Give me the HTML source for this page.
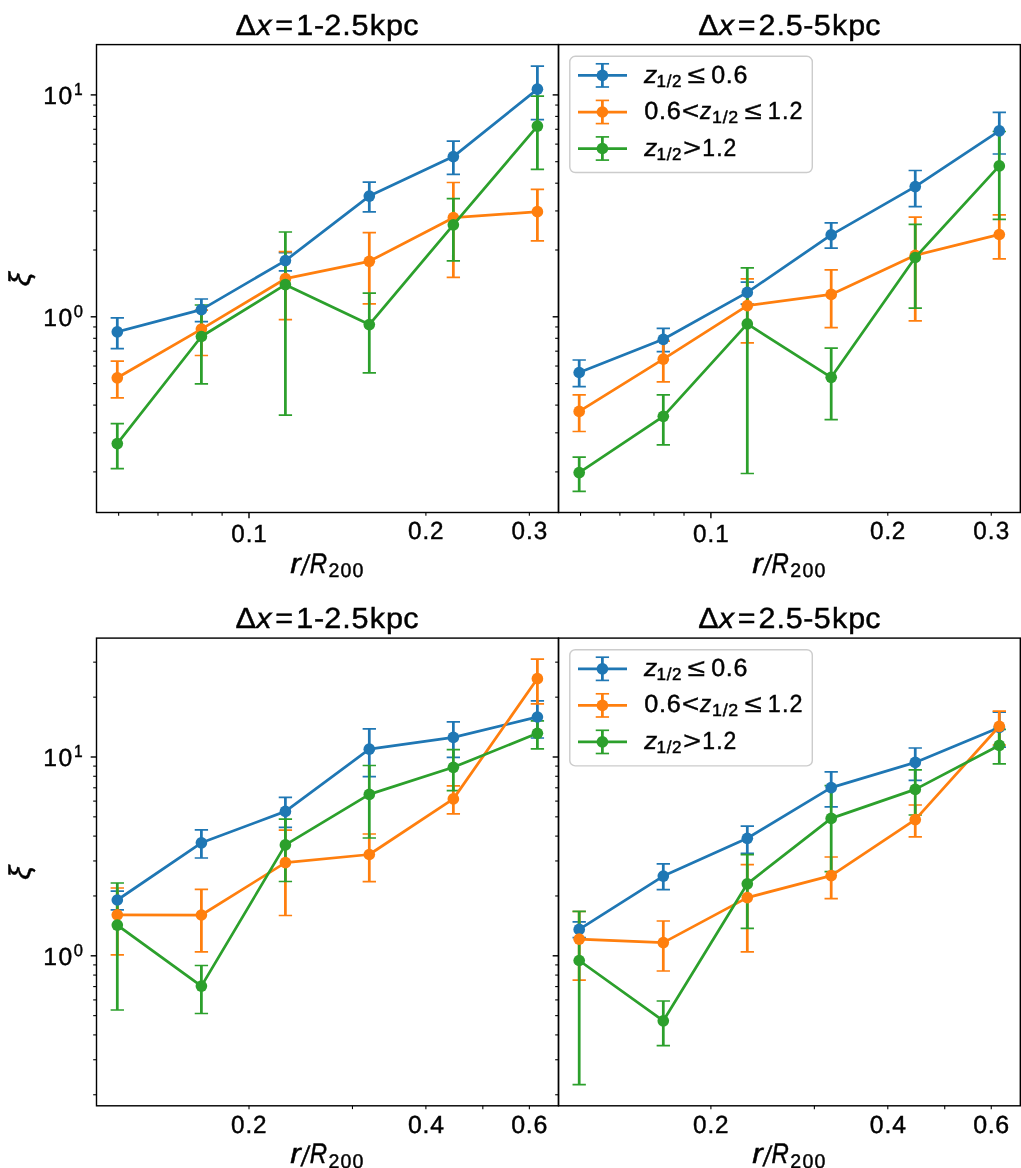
<!DOCTYPE html>
<html><head><meta charset="utf-8"><title>xi vs r/R200</title>
<style>html,body{margin:0;padding:0;background:#fff;}svg{display:block;}text{font-family:"Liberation Sans",sans-serif;text-rendering:geometricPrecision;}</style>
</head><body>
<svg width="1021" height="1168" viewBox="0 0 1021 1168">
<rect x="0" y="0" width="1021" height="1168" fill="#fff"/>
<defs>
<clipPath id="clipTL"><rect x="96.50" y="44.60" width="462.00" height="467.90"/></clipPath>
<clipPath id="clipTR"><rect x="558.50" y="44.60" width="461.80" height="467.90"/></clipPath>
<clipPath id="clipBL"><rect x="96.50" y="638.10" width="462.00" height="467.70"/></clipPath>
<clipPath id="clipBR"><rect x="558.50" y="638.10" width="461.80" height="467.70"/></clipPath>
</defs>
<g clip-path="url(#clipTL)">
<path d="M117.30 317.80V348.60M201.40 299.00V321.60M285.40 252.60V270.90M369.30 182.20V211.90M453.35 141.10V174.40M537.40 66.10V119.70" stroke="#1f77b4" stroke-width="2.750" fill="none"/>
<path d="M110.63 317.80H123.97M110.63 348.60H123.97M194.73 299.00H208.07M194.73 321.60H208.07M278.73 252.60H292.07M278.73 270.90H292.07M362.63 182.20H375.97M362.63 211.90H375.97M446.68 141.10H460.02M446.68 174.40H460.02M530.73 66.10H544.07M530.73 119.70H544.07" stroke="#1f77b4" stroke-width="1.667" fill="none"/>
<path d="M117.30 361.20V397.90M201.40 310.10V355.50M285.40 251.70V319.70M369.30 232.60V303.90M453.35 182.50V277.40M537.40 189.40V240.80" stroke="#ff7f0e" stroke-width="2.750" fill="none"/>
<path d="M110.63 361.20H123.97M110.63 397.90H123.97M194.73 310.10H208.07M194.73 355.50H208.07M278.73 251.70H292.07M278.73 319.70H292.07M362.63 232.60H375.97M362.63 303.90H375.97M446.68 182.50H460.02M446.68 277.40H460.02M530.73 189.40H544.07M530.73 240.80H544.07" stroke="#ff7f0e" stroke-width="1.667" fill="none"/>
<path d="M117.30 423.70V468.70M201.40 305.00V383.80M285.40 232.00V415.20M369.30 293.20V372.80M453.35 198.70V260.90M537.40 96.10V169.40" stroke="#2ca02c" stroke-width="2.750" fill="none"/>
<path d="M110.63 423.70H123.97M110.63 468.70H123.97M194.73 305.00H208.07M194.73 383.80H208.07M278.73 232.00H292.07M278.73 415.20H292.07M362.63 293.20H375.97M362.63 372.80H375.97M446.68 198.70H460.02M446.68 260.90H460.02M530.73 96.10H544.07M530.73 169.40H544.07" stroke="#2ca02c" stroke-width="1.667" fill="none"/>
<polyline points="117.30,331.90 201.40,309.60 285.40,260.60 369.30,196.10 453.35,156.60 537.40,89.20" stroke="#1f77b4" stroke-width="2.750" fill="none" stroke-linejoin="round" stroke-linecap="square"/>
<circle cx="117.30" cy="331.90" r="5.83" fill="#1f77b4"/>
<circle cx="201.40" cy="309.60" r="5.83" fill="#1f77b4"/>
<circle cx="285.40" cy="260.60" r="5.83" fill="#1f77b4"/>
<circle cx="369.30" cy="196.10" r="5.83" fill="#1f77b4"/>
<circle cx="453.35" cy="156.60" r="5.83" fill="#1f77b4"/>
<circle cx="537.40" cy="89.20" r="5.83" fill="#1f77b4"/>
<polyline points="117.30,377.80 201.40,329.10 285.40,278.70 369.30,261.30 453.35,217.70 537.40,211.70" stroke="#ff7f0e" stroke-width="2.750" fill="none" stroke-linejoin="round" stroke-linecap="square"/>
<circle cx="117.30" cy="377.80" r="5.83" fill="#ff7f0e"/>
<circle cx="201.40" cy="329.10" r="5.83" fill="#ff7f0e"/>
<circle cx="285.40" cy="278.70" r="5.83" fill="#ff7f0e"/>
<circle cx="369.30" cy="261.30" r="5.83" fill="#ff7f0e"/>
<circle cx="453.35" cy="217.70" r="5.83" fill="#ff7f0e"/>
<circle cx="537.40" cy="211.70" r="5.83" fill="#ff7f0e"/>
<polyline points="117.30,443.60 201.40,336.50 285.40,284.70 369.30,324.60 453.35,224.80 537.40,126.10" stroke="#2ca02c" stroke-width="2.750" fill="none" stroke-linejoin="round" stroke-linecap="square"/>
<circle cx="117.30" cy="443.60" r="5.83" fill="#2ca02c"/>
<circle cx="201.40" cy="336.50" r="5.83" fill="#2ca02c"/>
<circle cx="285.40" cy="284.70" r="5.83" fill="#2ca02c"/>
<circle cx="369.30" cy="324.60" r="5.83" fill="#2ca02c"/>
<circle cx="453.35" cy="224.80" r="5.83" fill="#2ca02c"/>
<circle cx="537.40" cy="126.10" r="5.83" fill="#2ca02c"/>
</g>
<g clip-path="url(#clipTR)">
<path d="M579.20 360.00V386.60M663.30 328.40V351.70M747.30 282.20V304.10M831.20 222.80V248.20M915.25 170.50V206.60M999.30 112.40V154.00" stroke="#1f77b4" stroke-width="2.750" fill="none"/>
<path d="M572.53 360.00H585.87M572.53 386.60H585.87M656.63 328.40H669.97M656.63 351.70H669.97M740.63 282.20H753.97M740.63 304.10H753.97M824.53 222.80H837.87M824.53 248.20H837.87M908.58 170.50H921.92M908.58 206.60H921.92M992.63 112.40H1005.97M992.63 154.00H1005.97" stroke="#1f77b4" stroke-width="1.667" fill="none"/>
<path d="M579.20 394.90V431.50M663.30 341.20V381.90M747.30 278.90V342.80M831.20 269.90V327.70M915.25 217.10V320.80M999.30 214.90V258.80" stroke="#ff7f0e" stroke-width="2.750" fill="none"/>
<path d="M572.53 394.90H585.87M572.53 431.50H585.87M656.63 341.20H669.97M656.63 381.90H669.97M740.63 278.90H753.97M740.63 342.80H753.97M824.53 269.90H837.87M824.53 327.70H837.87M908.58 217.10H921.92M908.58 320.80H921.92M992.63 214.90H1005.97M992.63 258.80H1005.97" stroke="#ff7f0e" stroke-width="1.667" fill="none"/>
<path d="M579.20 457.20V491.30M663.30 394.80V444.80M747.30 267.90V473.50M831.20 348.10V419.60M915.25 224.30V308.20M999.30 131.50V219.40" stroke="#2ca02c" stroke-width="2.750" fill="none"/>
<path d="M572.53 457.20H585.87M572.53 491.30H585.87M656.63 394.80H669.97M656.63 444.80H669.97M740.63 267.90H753.97M740.63 473.50H753.97M824.53 348.10H837.87M824.53 419.60H837.87M908.58 224.30H921.92M908.58 308.20H921.92M992.63 131.50H1005.97M992.63 219.40H1005.97" stroke="#2ca02c" stroke-width="1.667" fill="none"/>
<polyline points="579.20,372.50 663.30,339.30 747.30,292.40 831.20,234.90 915.25,186.60 999.30,130.90" stroke="#1f77b4" stroke-width="2.750" fill="none" stroke-linejoin="round" stroke-linecap="square"/>
<circle cx="579.20" cy="372.50" r="5.83" fill="#1f77b4"/>
<circle cx="663.30" cy="339.30" r="5.83" fill="#1f77b4"/>
<circle cx="747.30" cy="292.40" r="5.83" fill="#1f77b4"/>
<circle cx="831.20" cy="234.90" r="5.83" fill="#1f77b4"/>
<circle cx="915.25" cy="186.60" r="5.83" fill="#1f77b4"/>
<circle cx="999.30" cy="130.90" r="5.83" fill="#1f77b4"/>
<polyline points="579.20,411.40 663.30,359.20 747.30,305.60 831.20,294.40 915.25,255.30 999.30,234.50" stroke="#ff7f0e" stroke-width="2.750" fill="none" stroke-linejoin="round" stroke-linecap="square"/>
<circle cx="579.20" cy="411.40" r="5.83" fill="#ff7f0e"/>
<circle cx="663.30" cy="359.20" r="5.83" fill="#ff7f0e"/>
<circle cx="747.30" cy="305.60" r="5.83" fill="#ff7f0e"/>
<circle cx="831.20" cy="294.40" r="5.83" fill="#ff7f0e"/>
<circle cx="915.25" cy="255.30" r="5.83" fill="#ff7f0e"/>
<circle cx="999.30" cy="234.50" r="5.83" fill="#ff7f0e"/>
<polyline points="579.20,472.60 663.30,416.30 747.30,323.90 831.20,377.30 915.25,257.50 999.30,165.90" stroke="#2ca02c" stroke-width="2.750" fill="none" stroke-linejoin="round" stroke-linecap="square"/>
<circle cx="579.20" cy="472.60" r="5.83" fill="#2ca02c"/>
<circle cx="663.30" cy="416.30" r="5.83" fill="#2ca02c"/>
<circle cx="747.30" cy="323.90" r="5.83" fill="#2ca02c"/>
<circle cx="831.20" cy="377.30" r="5.83" fill="#2ca02c"/>
<circle cx="915.25" cy="257.50" r="5.83" fill="#2ca02c"/>
<circle cx="999.30" cy="165.90" r="5.83" fill="#2ca02c"/>
</g>
<g clip-path="url(#clipBL)">
<path d="M117.30 891.20V909.80M201.40 829.90V858.00M285.40 797.30V827.40M369.30 728.90V776.60M453.35 721.80V757.40M537.40 700.80V738.00" stroke="#1f77b4" stroke-width="2.750" fill="none"/>
<path d="M110.63 891.20H123.97M110.63 909.80H123.97M194.73 829.90H208.07M194.73 858.00H208.07M278.73 797.30H292.07M278.73 827.40H292.07M362.63 728.90H375.97M362.63 776.60H375.97M446.68 721.80H460.02M446.68 757.40H460.02M530.73 700.80H544.07M530.73 738.00H544.07" stroke="#1f77b4" stroke-width="1.667" fill="none"/>
<path d="M117.30 888.00V954.80M201.40 889.30V951.80M285.40 830.10V915.50M369.30 834.00V881.70M453.35 785.90V813.80M537.40 659.20V703.90" stroke="#ff7f0e" stroke-width="2.750" fill="none"/>
<path d="M110.63 888.00H123.97M110.63 954.80H123.97M194.73 889.30H208.07M194.73 951.80H208.07M278.73 830.10H292.07M278.73 915.50H292.07M362.63 834.00H375.97M362.63 881.70H375.97M446.68 785.90H460.02M446.68 813.80H460.02M530.73 659.20H544.07M530.73 703.90H544.07" stroke="#ff7f0e" stroke-width="1.667" fill="none"/>
<path d="M117.30 883.00V1010.00M201.40 965.50V1013.50M285.40 819.20V881.50M369.30 765.50V838.00M453.35 749.70V790.70M537.40 720.80V748.90" stroke="#2ca02c" stroke-width="2.750" fill="none"/>
<path d="M110.63 883.00H123.97M110.63 1010.00H123.97M194.73 965.50H208.07M194.73 1013.50H208.07M278.73 819.20H292.07M278.73 881.50H292.07M362.63 765.50H375.97M362.63 838.00H375.97M446.68 749.70H460.02M446.68 790.70H460.02M530.73 720.80H544.07M530.73 748.90H544.07" stroke="#2ca02c" stroke-width="1.667" fill="none"/>
<polyline points="117.30,900.00 201.40,842.80 285.40,811.40 369.30,749.20 453.35,737.40 537.40,717.00" stroke="#1f77b4" stroke-width="2.750" fill="none" stroke-linejoin="round" stroke-linecap="square"/>
<circle cx="117.30" cy="900.00" r="5.83" fill="#1f77b4"/>
<circle cx="201.40" cy="842.80" r="5.83" fill="#1f77b4"/>
<circle cx="285.40" cy="811.40" r="5.83" fill="#1f77b4"/>
<circle cx="369.30" cy="749.20" r="5.83" fill="#1f77b4"/>
<circle cx="453.35" cy="737.40" r="5.83" fill="#1f77b4"/>
<circle cx="537.40" cy="717.00" r="5.83" fill="#1f77b4"/>
<polyline points="117.30,914.80 201.40,915.00 285.40,862.70 369.30,854.50 453.35,798.90 537.40,678.70" stroke="#ff7f0e" stroke-width="2.750" fill="none" stroke-linejoin="round" stroke-linecap="square"/>
<circle cx="117.30" cy="914.80" r="5.83" fill="#ff7f0e"/>
<circle cx="201.40" cy="915.00" r="5.83" fill="#ff7f0e"/>
<circle cx="285.40" cy="862.70" r="5.83" fill="#ff7f0e"/>
<circle cx="369.30" cy="854.50" r="5.83" fill="#ff7f0e"/>
<circle cx="453.35" cy="798.90" r="5.83" fill="#ff7f0e"/>
<circle cx="537.40" cy="678.70" r="5.83" fill="#ff7f0e"/>
<polyline points="117.30,925.10 201.40,986.10 285.40,844.90 369.30,794.40 453.35,767.30 537.40,733.30" stroke="#2ca02c" stroke-width="2.750" fill="none" stroke-linejoin="round" stroke-linecap="square"/>
<circle cx="117.30" cy="925.10" r="5.83" fill="#2ca02c"/>
<circle cx="201.40" cy="986.10" r="5.83" fill="#2ca02c"/>
<circle cx="285.40" cy="844.90" r="5.83" fill="#2ca02c"/>
<circle cx="369.30" cy="794.40" r="5.83" fill="#2ca02c"/>
<circle cx="453.35" cy="767.30" r="5.83" fill="#2ca02c"/>
<circle cx="537.40" cy="733.30" r="5.83" fill="#2ca02c"/>
</g>
<g clip-path="url(#clipBR)">
<path d="M579.20 921.90V937.60M663.30 863.80V889.60M747.30 826.10V853.30M831.20 771.90V806.90M915.25 748.00V780.30M999.30 712.10V747.20" stroke="#1f77b4" stroke-width="2.750" fill="none"/>
<path d="M572.53 921.90H585.87M572.53 937.60H585.87M656.63 863.80H669.97M656.63 889.60H669.97M740.63 826.10H753.97M740.63 853.30H753.97M824.53 771.90H837.87M824.53 806.90H837.87M908.58 748.00H921.92M908.58 780.30H921.92M992.63 712.10H1005.97M992.63 747.20H1005.97" stroke="#1f77b4" stroke-width="1.667" fill="none"/>
<path d="M579.20 911.50V980.20M663.30 921.00V971.00M747.30 864.60V951.90M831.20 857.00V898.70M915.25 805.00V836.90M999.30 711.10V745.00" stroke="#ff7f0e" stroke-width="2.750" fill="none"/>
<path d="M572.53 911.50H585.87M572.53 980.20H585.87M656.63 921.00H669.97M656.63 971.00H669.97M740.63 864.60H753.97M740.63 951.90H753.97M824.53 857.00H837.87M824.53 898.70H837.87M908.58 805.00H921.92M908.58 836.90H921.92M992.63 711.10H1005.97M992.63 745.00H1005.97" stroke="#ff7f0e" stroke-width="1.667" fill="none"/>
<path d="M579.20 911.40V1084.60M663.30 1001.00V1045.60M747.30 854.60V928.40M831.20 785.70V871.70M915.25 769.80V815.00M999.30 729.30V763.90" stroke="#2ca02c" stroke-width="2.750" fill="none"/>
<path d="M572.53 911.40H585.87M572.53 1084.60H585.87M656.63 1001.00H669.97M656.63 1045.60H669.97M740.63 854.60H753.97M740.63 928.40H753.97M824.53 785.70H837.87M824.53 871.70H837.87M908.58 769.80H921.92M908.58 815.00H921.92M992.63 729.30H1005.97M992.63 763.90H1005.97" stroke="#2ca02c" stroke-width="1.667" fill="none"/>
<polyline points="579.20,929.40 663.30,876.10 747.30,838.30 831.20,787.60 915.25,762.40 999.30,727.50" stroke="#1f77b4" stroke-width="2.750" fill="none" stroke-linejoin="round" stroke-linecap="square"/>
<circle cx="579.20" cy="929.40" r="5.83" fill="#1f77b4"/>
<circle cx="663.30" cy="876.10" r="5.83" fill="#1f77b4"/>
<circle cx="747.30" cy="838.30" r="5.83" fill="#1f77b4"/>
<circle cx="831.20" cy="787.60" r="5.83" fill="#1f77b4"/>
<circle cx="915.25" cy="762.40" r="5.83" fill="#1f77b4"/>
<circle cx="999.30" cy="727.50" r="5.83" fill="#1f77b4"/>
<polyline points="579.20,939.20 663.30,942.60 747.30,897.60 831.20,875.60 915.25,819.60 999.30,726.30" stroke="#ff7f0e" stroke-width="2.750" fill="none" stroke-linejoin="round" stroke-linecap="square"/>
<circle cx="579.20" cy="939.20" r="5.83" fill="#ff7f0e"/>
<circle cx="663.30" cy="942.60" r="5.83" fill="#ff7f0e"/>
<circle cx="747.30" cy="897.60" r="5.83" fill="#ff7f0e"/>
<circle cx="831.20" cy="875.60" r="5.83" fill="#ff7f0e"/>
<circle cx="915.25" cy="819.60" r="5.83" fill="#ff7f0e"/>
<circle cx="999.30" cy="726.30" r="5.83" fill="#ff7f0e"/>
<polyline points="579.20,960.50 663.30,1020.80 747.30,883.80 831.20,818.40 915.25,789.40 999.30,745.30" stroke="#2ca02c" stroke-width="2.750" fill="none" stroke-linejoin="round" stroke-linecap="square"/>
<circle cx="579.20" cy="960.50" r="5.83" fill="#2ca02c"/>
<circle cx="663.30" cy="1020.80" r="5.83" fill="#2ca02c"/>
<circle cx="747.30" cy="883.80" r="5.83" fill="#2ca02c"/>
<circle cx="831.20" cy="818.40" r="5.83" fill="#2ca02c"/>
<circle cx="915.25" cy="789.40" r="5.83" fill="#2ca02c"/>
<circle cx="999.30" cy="745.30" r="5.83" fill="#2ca02c"/>
</g>
<rect x="96.50" y="44.60" width="462.00" height="467.90" fill="none" stroke="#000" stroke-width="1.420" stroke-linejoin="miter"/>
<rect x="558.50" y="44.60" width="461.80" height="467.90" fill="none" stroke="#000" stroke-width="1.420" stroke-linejoin="miter"/>
<line x1="93.17" y1="471.90" x2="96.50" y2="471.90" stroke="#000" stroke-width="1.100" stroke-linecap="butt"/>
<line x1="93.17" y1="432.83" x2="96.50" y2="432.83" stroke="#000" stroke-width="1.100" stroke-linecap="butt"/>
<line x1="93.17" y1="405.10" x2="96.50" y2="405.10" stroke="#000" stroke-width="1.100" stroke-linecap="butt"/>
<line x1="93.17" y1="383.60" x2="96.50" y2="383.60" stroke="#000" stroke-width="1.100" stroke-linecap="butt"/>
<line x1="93.17" y1="366.03" x2="96.50" y2="366.03" stroke="#000" stroke-width="1.100" stroke-linecap="butt"/>
<line x1="93.17" y1="351.17" x2="96.50" y2="351.17" stroke="#000" stroke-width="1.100" stroke-linecap="butt"/>
<line x1="93.17" y1="338.30" x2="96.50" y2="338.30" stroke="#000" stroke-width="1.100" stroke-linecap="butt"/>
<line x1="93.17" y1="326.95" x2="96.50" y2="326.95" stroke="#000" stroke-width="1.100" stroke-linecap="butt"/>
<line x1="90.67" y1="316.80" x2="96.50" y2="316.80" stroke="#000" stroke-width="1.420" stroke-linecap="butt"/>
<line x1="93.17" y1="250.00" x2="96.50" y2="250.00" stroke="#000" stroke-width="1.100" stroke-linecap="butt"/>
<line x1="93.17" y1="210.93" x2="96.50" y2="210.93" stroke="#000" stroke-width="1.100" stroke-linecap="butt"/>
<line x1="93.17" y1="183.20" x2="96.50" y2="183.20" stroke="#000" stroke-width="1.100" stroke-linecap="butt"/>
<line x1="93.17" y1="161.70" x2="96.50" y2="161.70" stroke="#000" stroke-width="1.100" stroke-linecap="butt"/>
<line x1="93.17" y1="144.13" x2="96.50" y2="144.13" stroke="#000" stroke-width="1.100" stroke-linecap="butt"/>
<line x1="93.17" y1="129.27" x2="96.50" y2="129.27" stroke="#000" stroke-width="1.100" stroke-linecap="butt"/>
<line x1="93.17" y1="116.40" x2="96.50" y2="116.40" stroke="#000" stroke-width="1.100" stroke-linecap="butt"/>
<line x1="93.17" y1="105.05" x2="96.50" y2="105.05" stroke="#000" stroke-width="1.100" stroke-linecap="butt"/>
<line x1="90.67" y1="94.90" x2="96.50" y2="94.90" stroke="#000" stroke-width="1.420" stroke-linecap="butt"/>
<line x1="555.17" y1="471.90" x2="558.50" y2="471.90" stroke="#000" stroke-width="1.100" stroke-linecap="butt"/>
<line x1="555.17" y1="432.83" x2="558.50" y2="432.83" stroke="#000" stroke-width="1.100" stroke-linecap="butt"/>
<line x1="555.17" y1="405.10" x2="558.50" y2="405.10" stroke="#000" stroke-width="1.100" stroke-linecap="butt"/>
<line x1="555.17" y1="383.60" x2="558.50" y2="383.60" stroke="#000" stroke-width="1.100" stroke-linecap="butt"/>
<line x1="555.17" y1="366.03" x2="558.50" y2="366.03" stroke="#000" stroke-width="1.100" stroke-linecap="butt"/>
<line x1="555.17" y1="351.17" x2="558.50" y2="351.17" stroke="#000" stroke-width="1.100" stroke-linecap="butt"/>
<line x1="555.17" y1="338.30" x2="558.50" y2="338.30" stroke="#000" stroke-width="1.100" stroke-linecap="butt"/>
<line x1="555.17" y1="326.95" x2="558.50" y2="326.95" stroke="#000" stroke-width="1.100" stroke-linecap="butt"/>
<line x1="552.67" y1="316.80" x2="558.50" y2="316.80" stroke="#000" stroke-width="1.420" stroke-linecap="butt"/>
<line x1="555.17" y1="250.00" x2="558.50" y2="250.00" stroke="#000" stroke-width="1.100" stroke-linecap="butt"/>
<line x1="555.17" y1="210.93" x2="558.50" y2="210.93" stroke="#000" stroke-width="1.100" stroke-linecap="butt"/>
<line x1="555.17" y1="183.20" x2="558.50" y2="183.20" stroke="#000" stroke-width="1.100" stroke-linecap="butt"/>
<line x1="555.17" y1="161.70" x2="558.50" y2="161.70" stroke="#000" stroke-width="1.100" stroke-linecap="butt"/>
<line x1="555.17" y1="144.13" x2="558.50" y2="144.13" stroke="#000" stroke-width="1.100" stroke-linecap="butt"/>
<line x1="555.17" y1="129.27" x2="558.50" y2="129.27" stroke="#000" stroke-width="1.100" stroke-linecap="butt"/>
<line x1="555.17" y1="116.40" x2="558.50" y2="116.40" stroke="#000" stroke-width="1.100" stroke-linecap="butt"/>
<line x1="555.17" y1="105.05" x2="558.50" y2="105.05" stroke="#000" stroke-width="1.100" stroke-linecap="butt"/>
<line x1="552.67" y1="94.90" x2="558.50" y2="94.90" stroke="#000" stroke-width="1.420" stroke-linecap="butt"/>
<line x1="118.64" y1="512.50" x2="118.64" y2="515.83" stroke="#000" stroke-width="1.100" stroke-linecap="butt"/>
<line x1="157.98" y1="512.50" x2="157.98" y2="515.83" stroke="#000" stroke-width="1.100" stroke-linecap="butt"/>
<line x1="192.06" y1="512.50" x2="192.06" y2="515.83" stroke="#000" stroke-width="1.100" stroke-linecap="butt"/>
<line x1="222.11" y1="512.50" x2="222.11" y2="515.83" stroke="#000" stroke-width="1.100" stroke-linecap="butt"/>
<line x1="249.00" y1="512.50" x2="249.00" y2="518.33" stroke="#000" stroke-width="1.420" stroke-linecap="butt"/>
<line x1="425.89" y1="512.50" x2="425.89" y2="515.83" stroke="#000" stroke-width="1.100" stroke-linecap="butt"/>
<line x1="529.36" y1="512.50" x2="529.36" y2="515.83" stroke="#000" stroke-width="1.100" stroke-linecap="butt"/>
<line x1="580.54" y1="512.50" x2="580.54" y2="515.83" stroke="#000" stroke-width="1.100" stroke-linecap="butt"/>
<line x1="619.88" y1="512.50" x2="619.88" y2="515.83" stroke="#000" stroke-width="1.100" stroke-linecap="butt"/>
<line x1="653.96" y1="512.50" x2="653.96" y2="515.83" stroke="#000" stroke-width="1.100" stroke-linecap="butt"/>
<line x1="684.01" y1="512.50" x2="684.01" y2="515.83" stroke="#000" stroke-width="1.100" stroke-linecap="butt"/>
<line x1="710.90" y1="512.50" x2="710.90" y2="518.33" stroke="#000" stroke-width="1.420" stroke-linecap="butt"/>
<line x1="887.79" y1="512.50" x2="887.79" y2="515.83" stroke="#000" stroke-width="1.100" stroke-linecap="butt"/>
<line x1="991.26" y1="512.50" x2="991.26" y2="515.83" stroke="#000" stroke-width="1.100" stroke-linecap="butt"/>
<rect x="96.50" y="638.10" width="462.00" height="467.70" fill="none" stroke="#000" stroke-width="1.420" stroke-linejoin="miter"/>
<rect x="558.50" y="638.10" width="461.80" height="467.70" fill="none" stroke="#000" stroke-width="1.420" stroke-linejoin="miter"/>
<line x1="93.17" y1="1094.76" x2="96.50" y2="1094.76" stroke="#000" stroke-width="1.100" stroke-linecap="butt"/>
<line x1="93.17" y1="1059.75" x2="96.50" y2="1059.75" stroke="#000" stroke-width="1.100" stroke-linecap="butt"/>
<line x1="93.17" y1="1034.91" x2="96.50" y2="1034.91" stroke="#000" stroke-width="1.100" stroke-linecap="butt"/>
<line x1="93.17" y1="1015.64" x2="96.50" y2="1015.64" stroke="#000" stroke-width="1.100" stroke-linecap="butt"/>
<line x1="93.17" y1="999.90" x2="96.50" y2="999.90" stroke="#000" stroke-width="1.100" stroke-linecap="butt"/>
<line x1="93.17" y1="986.59" x2="96.50" y2="986.59" stroke="#000" stroke-width="1.100" stroke-linecap="butt"/>
<line x1="93.17" y1="975.07" x2="96.50" y2="975.07" stroke="#000" stroke-width="1.100" stroke-linecap="butt"/>
<line x1="93.17" y1="964.90" x2="96.50" y2="964.90" stroke="#000" stroke-width="1.100" stroke-linecap="butt"/>
<line x1="90.67" y1="955.80" x2="96.50" y2="955.80" stroke="#000" stroke-width="1.420" stroke-linecap="butt"/>
<line x1="93.17" y1="895.96" x2="96.50" y2="895.96" stroke="#000" stroke-width="1.100" stroke-linecap="butt"/>
<line x1="93.17" y1="860.95" x2="96.50" y2="860.95" stroke="#000" stroke-width="1.100" stroke-linecap="butt"/>
<line x1="93.17" y1="836.11" x2="96.50" y2="836.11" stroke="#000" stroke-width="1.100" stroke-linecap="butt"/>
<line x1="93.17" y1="816.84" x2="96.50" y2="816.84" stroke="#000" stroke-width="1.100" stroke-linecap="butt"/>
<line x1="93.17" y1="801.10" x2="96.50" y2="801.10" stroke="#000" stroke-width="1.100" stroke-linecap="butt"/>
<line x1="93.17" y1="787.79" x2="96.50" y2="787.79" stroke="#000" stroke-width="1.100" stroke-linecap="butt"/>
<line x1="93.17" y1="776.27" x2="96.50" y2="776.27" stroke="#000" stroke-width="1.100" stroke-linecap="butt"/>
<line x1="93.17" y1="766.10" x2="96.50" y2="766.10" stroke="#000" stroke-width="1.100" stroke-linecap="butt"/>
<line x1="90.67" y1="757.00" x2="96.50" y2="757.00" stroke="#000" stroke-width="1.420" stroke-linecap="butt"/>
<line x1="93.17" y1="697.16" x2="96.50" y2="697.16" stroke="#000" stroke-width="1.100" stroke-linecap="butt"/>
<line x1="93.17" y1="662.15" x2="96.50" y2="662.15" stroke="#000" stroke-width="1.100" stroke-linecap="butt"/>
<line x1="555.17" y1="1094.76" x2="558.50" y2="1094.76" stroke="#000" stroke-width="1.100" stroke-linecap="butt"/>
<line x1="555.17" y1="1059.75" x2="558.50" y2="1059.75" stroke="#000" stroke-width="1.100" stroke-linecap="butt"/>
<line x1="555.17" y1="1034.91" x2="558.50" y2="1034.91" stroke="#000" stroke-width="1.100" stroke-linecap="butt"/>
<line x1="555.17" y1="1015.64" x2="558.50" y2="1015.64" stroke="#000" stroke-width="1.100" stroke-linecap="butt"/>
<line x1="555.17" y1="999.90" x2="558.50" y2="999.90" stroke="#000" stroke-width="1.100" stroke-linecap="butt"/>
<line x1="555.17" y1="986.59" x2="558.50" y2="986.59" stroke="#000" stroke-width="1.100" stroke-linecap="butt"/>
<line x1="555.17" y1="975.07" x2="558.50" y2="975.07" stroke="#000" stroke-width="1.100" stroke-linecap="butt"/>
<line x1="555.17" y1="964.90" x2="558.50" y2="964.90" stroke="#000" stroke-width="1.100" stroke-linecap="butt"/>
<line x1="552.67" y1="955.80" x2="558.50" y2="955.80" stroke="#000" stroke-width="1.420" stroke-linecap="butt"/>
<line x1="555.17" y1="895.96" x2="558.50" y2="895.96" stroke="#000" stroke-width="1.100" stroke-linecap="butt"/>
<line x1="555.17" y1="860.95" x2="558.50" y2="860.95" stroke="#000" stroke-width="1.100" stroke-linecap="butt"/>
<line x1="555.17" y1="836.11" x2="558.50" y2="836.11" stroke="#000" stroke-width="1.100" stroke-linecap="butt"/>
<line x1="555.17" y1="816.84" x2="558.50" y2="816.84" stroke="#000" stroke-width="1.100" stroke-linecap="butt"/>
<line x1="555.17" y1="801.10" x2="558.50" y2="801.10" stroke="#000" stroke-width="1.100" stroke-linecap="butt"/>
<line x1="555.17" y1="787.79" x2="558.50" y2="787.79" stroke="#000" stroke-width="1.100" stroke-linecap="butt"/>
<line x1="555.17" y1="776.27" x2="558.50" y2="776.27" stroke="#000" stroke-width="1.100" stroke-linecap="butt"/>
<line x1="555.17" y1="766.10" x2="558.50" y2="766.10" stroke="#000" stroke-width="1.100" stroke-linecap="butt"/>
<line x1="552.67" y1="757.00" x2="558.50" y2="757.00" stroke="#000" stroke-width="1.420" stroke-linecap="butt"/>
<line x1="555.17" y1="697.16" x2="558.50" y2="697.16" stroke="#000" stroke-width="1.100" stroke-linecap="butt"/>
<line x1="555.17" y1="662.15" x2="558.50" y2="662.15" stroke="#000" stroke-width="1.100" stroke-linecap="butt"/>
<line x1="249.00" y1="1105.80" x2="249.00" y2="1109.13" stroke="#000" stroke-width="1.100" stroke-linecap="butt"/>
<line x1="352.47" y1="1105.80" x2="352.47" y2="1109.13" stroke="#000" stroke-width="1.100" stroke-linecap="butt"/>
<line x1="425.89" y1="1105.80" x2="425.89" y2="1109.13" stroke="#000" stroke-width="1.100" stroke-linecap="butt"/>
<line x1="482.83" y1="1105.80" x2="482.83" y2="1109.13" stroke="#000" stroke-width="1.100" stroke-linecap="butt"/>
<line x1="529.36" y1="1105.80" x2="529.36" y2="1109.13" stroke="#000" stroke-width="1.100" stroke-linecap="butt"/>
<line x1="710.90" y1="1105.80" x2="710.90" y2="1109.13" stroke="#000" stroke-width="1.100" stroke-linecap="butt"/>
<line x1="814.37" y1="1105.80" x2="814.37" y2="1109.13" stroke="#000" stroke-width="1.100" stroke-linecap="butt"/>
<line x1="887.79" y1="1105.80" x2="887.79" y2="1109.13" stroke="#000" stroke-width="1.100" stroke-linecap="butt"/>
<line x1="944.73" y1="1105.80" x2="944.73" y2="1109.13" stroke="#000" stroke-width="1.100" stroke-linecap="butt"/>
<line x1="991.26" y1="1105.80" x2="991.26" y2="1109.13" stroke="#000" stroke-width="1.100" stroke-linecap="butt"/>
<rect x="569.80" y="56.30" width="242.50" height="116.20" rx="5.5" ry="5.5" fill="#fff" fill-opacity="0.8" stroke="#ccc" stroke-width="1.420"/>
<line x1="578.00" y1="75.40" x2="627.00" y2="75.40" stroke="#1f77b4" stroke-width="2.750" stroke-linecap="butt"/>
<line x1="602.40" y1="63.80" x2="602.40" y2="87.00" stroke="#1f77b4" stroke-width="2.750" stroke-linecap="butt"/>
<line x1="595.73" y1="63.80" x2="609.07" y2="63.80" stroke="#1f77b4" stroke-width="1.667" stroke-linecap="butt"/>
<line x1="595.73" y1="87.00" x2="609.07" y2="87.00" stroke="#1f77b4" stroke-width="1.667" stroke-linecap="butt"/>
<circle cx="602.40" cy="75.40" r="5.83" fill="#1f77b4"/>
<line x1="578.00" y1="112.00" x2="627.00" y2="112.00" stroke="#ff7f0e" stroke-width="2.750" stroke-linecap="butt"/>
<line x1="602.40" y1="100.40" x2="602.40" y2="123.60" stroke="#ff7f0e" stroke-width="2.750" stroke-linecap="butt"/>
<line x1="595.73" y1="100.40" x2="609.07" y2="100.40" stroke="#ff7f0e" stroke-width="1.667" stroke-linecap="butt"/>
<line x1="595.73" y1="123.60" x2="609.07" y2="123.60" stroke="#ff7f0e" stroke-width="1.667" stroke-linecap="butt"/>
<circle cx="602.40" cy="112.00" r="5.83" fill="#ff7f0e"/>
<line x1="578.00" y1="148.50" x2="627.00" y2="148.50" stroke="#2ca02c" stroke-width="2.750" stroke-linecap="butt"/>
<line x1="602.40" y1="136.90" x2="602.40" y2="160.10" stroke="#2ca02c" stroke-width="2.750" stroke-linecap="butt"/>
<line x1="595.73" y1="136.90" x2="609.07" y2="136.90" stroke="#2ca02c" stroke-width="1.667" stroke-linecap="butt"/>
<line x1="595.73" y1="160.10" x2="609.07" y2="160.10" stroke="#2ca02c" stroke-width="1.667" stroke-linecap="butt"/>
<circle cx="602.40" cy="148.50" r="5.83" fill="#2ca02c"/>
<rect x="569.80" y="649.70" width="242.50" height="116.20" rx="5.5" ry="5.5" fill="#fff" fill-opacity="0.8" stroke="#ccc" stroke-width="1.420"/>
<line x1="578.00" y1="668.80" x2="627.00" y2="668.80" stroke="#1f77b4" stroke-width="2.750" stroke-linecap="butt"/>
<line x1="602.40" y1="657.20" x2="602.40" y2="680.40" stroke="#1f77b4" stroke-width="2.750" stroke-linecap="butt"/>
<line x1="595.73" y1="657.20" x2="609.07" y2="657.20" stroke="#1f77b4" stroke-width="1.667" stroke-linecap="butt"/>
<line x1="595.73" y1="680.40" x2="609.07" y2="680.40" stroke="#1f77b4" stroke-width="1.667" stroke-linecap="butt"/>
<circle cx="602.40" cy="668.80" r="5.83" fill="#1f77b4"/>
<line x1="578.00" y1="705.40" x2="627.00" y2="705.40" stroke="#ff7f0e" stroke-width="2.750" stroke-linecap="butt"/>
<line x1="602.40" y1="693.80" x2="602.40" y2="717.00" stroke="#ff7f0e" stroke-width="2.750" stroke-linecap="butt"/>
<line x1="595.73" y1="693.80" x2="609.07" y2="693.80" stroke="#ff7f0e" stroke-width="1.667" stroke-linecap="butt"/>
<line x1="595.73" y1="717.00" x2="609.07" y2="717.00" stroke="#ff7f0e" stroke-width="1.667" stroke-linecap="butt"/>
<circle cx="602.40" cy="705.40" r="5.83" fill="#ff7f0e"/>
<line x1="578.00" y1="741.90" x2="627.00" y2="741.90" stroke="#2ca02c" stroke-width="2.750" stroke-linecap="butt"/>
<line x1="602.40" y1="730.30" x2="602.40" y2="753.50" stroke="#2ca02c" stroke-width="2.750" stroke-linecap="butt"/>
<line x1="595.73" y1="730.30" x2="609.07" y2="730.30" stroke="#2ca02c" stroke-width="1.667" stroke-linecap="butt"/>
<line x1="595.73" y1="753.50" x2="609.07" y2="753.50" stroke="#2ca02c" stroke-width="1.667" stroke-linecap="butt"/>
<circle cx="602.40" cy="741.90" r="5.83" fill="#2ca02c"/>
<g fill="#000" stroke="#000" stroke-width="0.45" opacity="0.999" style="font-family:'Liberation Sans', sans-serif;font-kerning:none">
<text transform="translate(0 34.70) scale(1.0520 1)" font-size="29.08"><tspan x="223.98">Δ</tspan><tspan font-style="italic" x="243.48">x</tspan><tspan x="261.56 281.60 298.41 308.20 325.41 334.09 351.53 367.00 383.25">=1-2.5kpc</tspan></text>
<text transform="translate(0 34.70) scale(1.0473 1)" font-size="29.08"><tspan x="666.72">Δ</tspan><tspan font-style="italic" x="686.25">x</tspan><tspan x="704.36 724.24 741.48 750.18 766.95 777.02 794.48 809.98 826.26">=2.5-5kpc</tspan></text>
<text transform="translate(0 628.10) scale(1.0520 1)" font-size="29.08"><tspan x="223.98">Δ</tspan><tspan font-style="italic" x="243.48">x</tspan><tspan x="261.56 281.60 298.41 308.20 325.41 334.09 351.53 367.00 383.25">=1-2.5kpc</tspan></text>
<text transform="translate(0 628.10) scale(1.0473 1)" font-size="29.08"><tspan x="666.72">Δ</tspan><tspan font-style="italic" x="686.25">x</tspan><tspan x="704.36 724.24 741.48 750.18 766.95 777.02 794.48 809.98 826.26">=2.5-5kpc</tspan></text>
<text transform="translate(0 542.00) scale(0.9781 1)" font-size="24.72"><tspan x="236.32 251.14 258.96">0.1</tspan></text>
<text transform="translate(0 538.90) scale(0.9813 1)" font-size="24.72"><tspan x="415.79 430.56 438.16">0.2</tspan></text>
<text transform="translate(0 538.90) scale(0.9819 1)" font-size="24.72"><tspan x="520.89 535.69 543.65">0.3</tspan></text>
<text transform="translate(0 1132.60) scale(0.9813 1)" font-size="24.72"><tspan x="235.53 250.30 257.90">0.2</tspan></text>
<text transform="translate(0 1132.60) scale(1.0018 1)" font-size="24.72"><tspan x="407.17 421.76 429.49">0.4</tspan></text>
<text transform="translate(0 1132.60) scale(1.0093 1)" font-size="24.72"><tspan x="506.55 520.97 528.53">0.6</tspan></text>
<text transform="translate(0 542.00) scale(0.9781 1)" font-size="24.72"><tspan x="708.58 723.39 731.22">0.1</tspan></text>
<text transform="translate(0 538.90) scale(0.9813 1)" font-size="24.72"><tspan x="886.50 901.27 908.87">0.2</tspan></text>
<text transform="translate(0 538.90) scale(0.9819 1)" font-size="24.72"><tspan x="991.28 1006.08 1014.04">0.3</tspan></text>
<text transform="translate(0 1132.60) scale(0.9813 1)" font-size="24.72"><tspan x="706.24 721.01 728.61">0.2</tspan></text>
<text transform="translate(0 1132.60) scale(1.0018 1)" font-size="24.72"><tspan x="868.25 882.84 890.57">0.4</tspan></text>
<text transform="translate(0 1132.60) scale(1.0093 1)" font-size="24.72"><tspan x="964.19 978.61 986.17">0.6</tspan></text>
<text transform="translate(0 325.70) scale(0.9974 1)" font-size="24.72"><tspan x="43.41 58.77">10</tspan></text>
<text transform="translate(0 316.90) scale(0.9549 1)" font-size="17.31"><tspan x="77.23">0</tspan></text>
<text transform="translate(0 103.80) scale(0.9974 1)" font-size="24.72"><tspan x="43.41 58.77">10</tspan></text>
<text transform="translate(0 95.00) scale(0.8979 1)" font-size="17.31"><tspan x="82.54">1</tspan></text>
<text transform="translate(0 964.70) scale(0.9974 1)" font-size="24.72"><tspan x="43.41 58.77">10</tspan></text>
<text transform="translate(0 955.90) scale(0.9549 1)" font-size="17.31"><tspan x="77.23">0</tspan></text>
<text transform="translate(0 765.90) scale(0.9974 1)" font-size="24.72"><tspan x="43.41 58.77">10</tspan></text>
<text transform="translate(0 757.10) scale(0.8979 1)" font-size="17.31"><tspan x="82.54">1</tspan></text>
<text transform="translate(0 572.70) scale(1.1319 1)" font-size="28.26"><tspan font-style="italic" x="256.52">r</tspan></text>
<text transform="translate(0 574.90) scale(0.8500 1)" font-size="28.26"><tspan font-style="italic" x="355.01">/</tspan></text>
<text transform="translate(0 572.70) scale(0.8500 1)" font-size="28.26"><tspan font-style="italic" x="364.38">R</tspan></text>
<text transform="translate(0 577.20) scale(0.9913 1)" font-size="19.78"><tspan x="331.28 343.61 355.70">200</tspan></text>
<text transform="translate(0 1163.30) scale(1.1319 1)" font-size="28.26"><tspan font-style="italic" x="256.52">r</tspan></text>
<text transform="translate(0 1165.50) scale(0.8500 1)" font-size="28.26"><tspan font-style="italic" x="355.01">/</tspan></text>
<text transform="translate(0 1163.30) scale(0.8500 1)" font-size="28.26"><tspan font-style="italic" x="364.38">R</tspan></text>
<text transform="translate(0 1167.80) scale(0.9913 1)" font-size="19.78"><tspan x="331.28 343.61 355.70">200</tspan></text>
<text transform="translate(0 572.70) scale(1.1319 1)" font-size="28.26"><tspan font-style="italic" x="664.58">r</tspan></text>
<text transform="translate(0 574.90) scale(0.8500 1)" font-size="28.26"><tspan font-style="italic" x="898.42">/</tspan></text>
<text transform="translate(0 572.70) scale(0.8500 1)" font-size="28.26"><tspan font-style="italic" x="907.79">R</tspan></text>
<text transform="translate(0 577.20) scale(0.9913 1)" font-size="19.78"><tspan x="797.23 809.56 821.65">200</tspan></text>
<text transform="translate(0 1163.30) scale(1.1319 1)" font-size="28.26"><tspan font-style="italic" x="664.58">r</tspan></text>
<text transform="translate(0 1165.50) scale(0.8500 1)" font-size="28.26"><tspan font-style="italic" x="898.42">/</tspan></text>
<text transform="translate(0 1163.30) scale(0.8500 1)" font-size="28.26"><tspan font-style="italic" x="907.79">R</tspan></text>
<text transform="translate(0 1167.80) scale(0.9913 1)" font-size="19.78"><tspan x="797.23 809.56 821.65">200</tspan></text>
<text transform="translate(29.90 286.30) rotate(-90) scale(1.1100 1.0550)" font-size="28.26"><tspan font-style="italic">ξ</tspan></text>
<text transform="translate(29.90 879.70) rotate(-90) scale(1.1100 1.0550)" font-size="28.26"><tspan font-style="italic">ξ</tspan></text>
<text transform="translate(0 82.90) scale(1.0684 1)" font-size="24.72"><tspan font-style="italic" x="602.85">z</tspan></text>
<text transform="translate(0 86.80) scale(0.9844 1)" font-size="17.31"><tspan x="666.84 677.29 682.61">1/2</tspan></text>
<text transform="translate(0 82.90) scale(1.2712 1)" font-size="24.72"><tspan x="541.07">≤</tspan></text>
<text transform="translate(0 82.90) scale(1.0128 1)" font-size="24.72"><tspan x="702.20 716.63 724.18">0.6</tspan></text>
<text transform="translate(0 118.80) scale(1.0217 1)" font-size="24.72"><tspan x="630.49 644.92 652.47">0.6</tspan></text>
<text transform="translate(0 118.80) scale(1.1905 1)" font-size="24.72"><tspan x="572.89">&lt;</tspan></text>
<text transform="translate(0 118.80) scale(0.9122 1)" font-size="24.72"><tspan font-style="italic" x="767.51">z</tspan></text>
<text transform="translate(0 122.70) scale(1.0281 1)" font-size="17.31"><tspan x="692.48 702.93 708.25">1/2</tspan></text>
<text transform="translate(0 118.80) scale(1.2463 1)" font-size="24.72"><tspan x="597.64">≤</tspan></text>
<text transform="translate(0 118.80) scale(0.9460 1)" font-size="24.72"><tspan x="811.60 826.74 834.56">1.2</tspan></text>
<text transform="translate(0 155.80) scale(1.0519 1)" font-size="24.72"><tspan font-style="italic" x="612.46">z</tspan></text>
<text transform="translate(0 159.70) scale(0.9844 1)" font-size="17.31"><tspan x="666.84 677.29 682.61">1/2</tspan></text>
<text transform="translate(0 155.80) scale(1.2238 1)" font-size="24.72"><tspan x="558.25">&gt;</tspan></text>
<text transform="translate(0 155.80) scale(0.9281 1)" font-size="24.72"><tspan x="756.72 771.85 779.68">1.2</tspan></text>
<text transform="translate(0 676.30) scale(1.0684 1)" font-size="24.72"><tspan font-style="italic" x="602.85">z</tspan></text>
<text transform="translate(0 680.20) scale(0.9844 1)" font-size="17.31"><tspan x="666.84 677.29 682.61">1/2</tspan></text>
<text transform="translate(0 676.30) scale(1.2712 1)" font-size="24.72"><tspan x="541.07">≤</tspan></text>
<text transform="translate(0 676.30) scale(1.0128 1)" font-size="24.72"><tspan x="702.20 716.63 724.18">0.6</tspan></text>
<text transform="translate(0 712.20) scale(1.0217 1)" font-size="24.72"><tspan x="630.49 644.92 652.47">0.6</tspan></text>
<text transform="translate(0 712.20) scale(1.1905 1)" font-size="24.72"><tspan x="572.89">&lt;</tspan></text>
<text transform="translate(0 712.20) scale(0.9122 1)" font-size="24.72"><tspan font-style="italic" x="767.51">z</tspan></text>
<text transform="translate(0 716.10) scale(1.0281 1)" font-size="17.31"><tspan x="692.48 702.93 708.25">1/2</tspan></text>
<text transform="translate(0 712.20) scale(1.2463 1)" font-size="24.72"><tspan x="597.64">≤</tspan></text>
<text transform="translate(0 712.20) scale(0.9460 1)" font-size="24.72"><tspan x="811.60 826.74 834.56">1.2</tspan></text>
<text transform="translate(0 749.20) scale(1.0519 1)" font-size="24.72"><tspan font-style="italic" x="612.46">z</tspan></text>
<text transform="translate(0 753.10) scale(0.9844 1)" font-size="17.31"><tspan x="666.84 677.29 682.61">1/2</tspan></text>
<text transform="translate(0 749.20) scale(1.2238 1)" font-size="24.72"><tspan x="558.25">&gt;</tspan></text>
<text transform="translate(0 749.20) scale(0.9281 1)" font-size="24.72"><tspan x="756.72 771.85 779.68">1.2</tspan></text>
</g>
</svg>
</body></html>
